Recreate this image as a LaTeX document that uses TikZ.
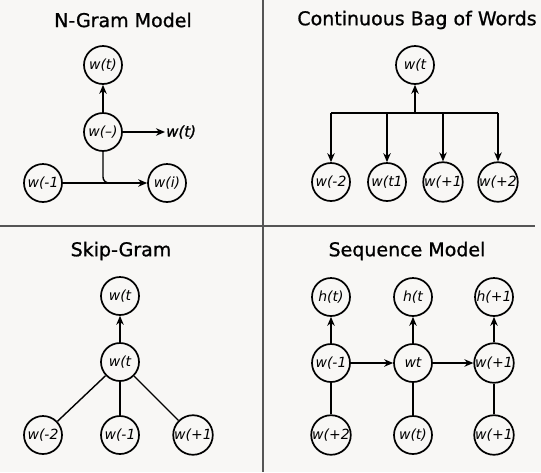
\documentclass[tikz,border=0pt]{standalone}
\usepackage{fontspec}
\setmainfont{DejaVu Sans}
\newfontfamily\titlefont[FakeBold=1.0]{DejaVu Sans}
\usetikzlibrary{arrows.meta}
\definecolor{bg}{RGB}{248,247,245}
\definecolor{divider}{RGB}{85,85,85}
\begin{document}
\begin{tikzpicture}[x=1pt,y=-1pt,
  wnode/.style={circle,draw=black,line width=1.7pt,fill=bg,minimum size=38pt,inner sep=0pt,
    font=\fontsize{14}{14}\selectfont\itshape},
  title/.style={font=\titlefont\fontsize{19}{19}\selectfont},
  arr/.style={line width=1.4pt,-{Stealth[length=9pt,width=7.5pt]}},
  ln/.style={line width=1.4pt},
  sep/.style={line width=1.4pt,draw=divider}]
\useasboundingbox (0,0) rectangle (541,472);
\fill[bg] (0,0) rectangle (541,472);
% dividers
\coordinate (vtop) at (263,0);
\coordinate (vbot) at (263,472);
\coordinate (hl) at (0,226);
\coordinate (hr) at (535,226);
\draw[sep] (vtop) -- (vbot);
\draw[sep] (hl) -- (hr);

% ---- N-Gram Model
\node[title] (t1) at (123,20) {N-Gram Model};
\node[wnode] (ng1) at (103,65) {w(t)};
\node[wnode] (ng2) at (103,132) {w(–)};
\node[font=\titlefont\fontsize{15}{15}\selectfont\itshape, anchor=west, inner sep=1pt] (ng3) at (165,132) {w(t)};
\node[wnode] (ng4) at (43,183) {w(-1};
\node[wnode] (ng5) at (167,183) {w(i)};
\draw[arr] (ng2) -- (ng1);
\draw[arr] (ng2) -- (ng3);
\draw[arr] (ng4) -- (ng5);
\draw[ln,rounded corners=6pt] (ng2.south) |- ([xshift=12pt]ng2.south |- ng5.center);

% ---- Continuous Bag of Words
\node[title] (t2) at (417,20) {Continuous Bag of Words};
\node[wnode] (cb0) at (415,65) {w(t};
\node[wnode] (cb1) at (331,182) {w(-2};
\node[wnode] (cb2) at (387,182) {w(t1};
\node[wnode] (cb3) at (443,182) {w(+1};
\node[wnode] (cb4) at (498,182) {w(+2};
\coordinate (bus0) at (415,113);
\coordinate (bus1) at (331,113);
\coordinate (bus2) at (387,113);
\coordinate (bus3) at (443,113);
\coordinate (bus4) at (498,113);
\draw[ln] (bus1) -- (bus4);
\draw[arr] (bus0) -- (cb0);
\draw[arr] (bus1) -- (cb1);
\draw[arr] (bus2) -- (cb2);
\draw[arr] (bus3) -- (cb3);
\draw[arr] (bus4) -- (cb4);

% ---- Skip-Gram
\node[title] (t3) at (121,251) {Skip-Gram};
\node[wnode] (sg0) at (120,296) {w(t};
\node[wnode] (sg1) at (120,362) {w(t};
\node[wnode] (sg2) at (43,435) {w(-2};
\node[wnode] (sg3) at (120,435) {w(-1};
\node[wnode] (sg4) at (193,435) {w(+1};
\draw[arr] (sg1) -- (sg0);
\draw[ln] (sg1) -- (sg2);
\draw[ln] (sg1) -- (sg3);
\draw[ln] (sg1) -- (sg4);

% ---- Sequence Model
\node[title] (t4) at (407,251) {Sequence Model};
\node[wnode] (h1) at (331,297) {h(t)};
\node[wnode] (h2) at (413,297) {h(t};
\node[wnode] (h3) at (494,297) {h(+1};
\node[wnode] (m1) at (331,363) {w(-1};
\node[wnode] (m2) at (413,363) {wt};
\node[wnode] (m3) at (494,363) {w(+1};
\node[wnode] (b1) at (331,435) {w(+2};
\node[wnode] (b2) at (413,435) {w(t)};
\node[wnode] (b3) at (494,435) {w(+1};
\draw[arr] (m1) -- (h1);
\draw[arr] (m2) -- (h2);
\draw[arr] (m3) -- (h3);
\draw[arr] (m1) -- (m2);
\draw[arr] (m2) -- (m3);
\draw[ln] (b1) -- (m1);
\draw[ln] (b2) -- (m2);
\draw[ln] (b3) -- (m3);
\end{tikzpicture}
\end{document}
